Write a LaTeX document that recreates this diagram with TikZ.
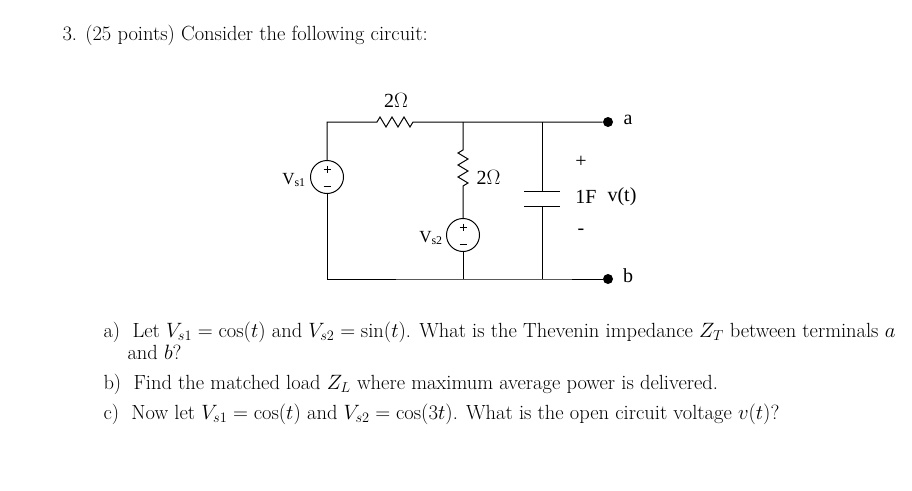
\documentclass[tikz,border=0pt]{standalone}
\usepackage{fontspec}
\newfontfamily\cf{Liberation Serif}
\begin{document}
\begin{tikzpicture}[x=1pt,y=-1pt,line width=1pt,
  txt/.style={anchor=base west,inner sep=0pt,font=\fontsize{20.5}{24}\selectfont},
  lab/.style={inner sep=0pt,font=\cf\fontsize{20}{22}\selectfont},
  slab/.style={inner sep=0pt,font=\cf\fontsize{17}{19}\selectfont},
  src/.style={circle,draw,minimum size=33pt,inner sep=0pt},
  dot/.style={circle,fill,minimum size=10pt,inner sep=0pt}]
\useasboundingbox (0,0) rectangle (912,490);
\node[txt] (t0) at (62,40) {3. (25 points) Consider the following circuit:};
% nodes
\node[src] (v1) at (327,177) {};
\node[src] (v2) at (463,235) {};
\node[dot] (a) at (608,122) {};
\node[dot] (b) at (608,279) {};
\coordinate (tl) at (327,122); \coordinate (bl) at (327,279);
\coordinate (tm) at (463,122); \coordinate (bm) at (463,279);
\coordinate (tc) at (542,122); \coordinate (bc) at (542,279);
\coordinate (p1) at (542,191); \coordinate (p2) at (542,206);
% signs
\foreach \s in {v1,v2}{
 \draw[line width=0.7pt] ([yshift=8pt]\s.center) ++(-3.5,0) -- ++(7,0) ++(-3.5,-3.5) -- ++(0,7);
 \draw[line width=0.7pt] ([yshift=-9pt]\s.center) ++(-3.5,0) -- ++(7,0);}
% wires
\draw (v1.north) -- (tl) -- (377,122) -- (380,117) -- (386,127) -- (392,117) -- (398,127) -- (404,117) -- (410,127) -- (413,122) -- (tm) -- (tc) -- (a);
\draw (v1.south) -- (bl) -- (bm) -- (bc) -- (b);
\draw (tm) -- (463,150) -- (458,153) -- (468,159) -- (458,165) -- (468,171) -- (458,177) -- (468,183) -- (463,186) -- (v2.north);
\draw (v2.south) -- (bm);
\draw (tc) -- (p1) (p2) -- (bc);
\draw (524,191) -- (560,191) (524,206) -- (560,206);
% labels
\node[lab] (l1) at (396,100) {2$\Omega$};
\node[lab,anchor=west] (l2) at (476,177) {2$\Omega$};
\node[slab] (l3) at (294,180) {V\textsubscript{s1}};
\node[slab] (l4) at (431,238) {V\textsubscript{s2}};
\node[lab] (la) at (628,120) {a};
\node[lab] (lb) at (628,276) {b};
\node[lab] (lp) at (581,162) {+};
\node[lab] (lm) at (581,232) {-};
\node[lab] (lf) at (586,197) {1F};
\node[lab] (lv) at (622,197) {v(t)};
% questions
\node[txt] (qa) at (103,337) {a)\ \ Let $V_{s1}=\cos(t)$ and $V_{s2}=\sin(t)$. What is the Thevenin impedance $Z_T$ between terminals $a$};
\node[txt] (qa2) at (127,359) {and $b$?};
\node[txt] (qb) at (103,389) {b)\ \ Find the matched load $Z_L$ where maximum average power is delivered.};
\node[txt] (qc) at (103,419) {c)\ \ Now let $V_{s1}=\cos(t)$ and $V_{s2}=\cos(3t)$. What is the open circuit voltage $v(t)$?};
\end{tikzpicture}
\end{document}
